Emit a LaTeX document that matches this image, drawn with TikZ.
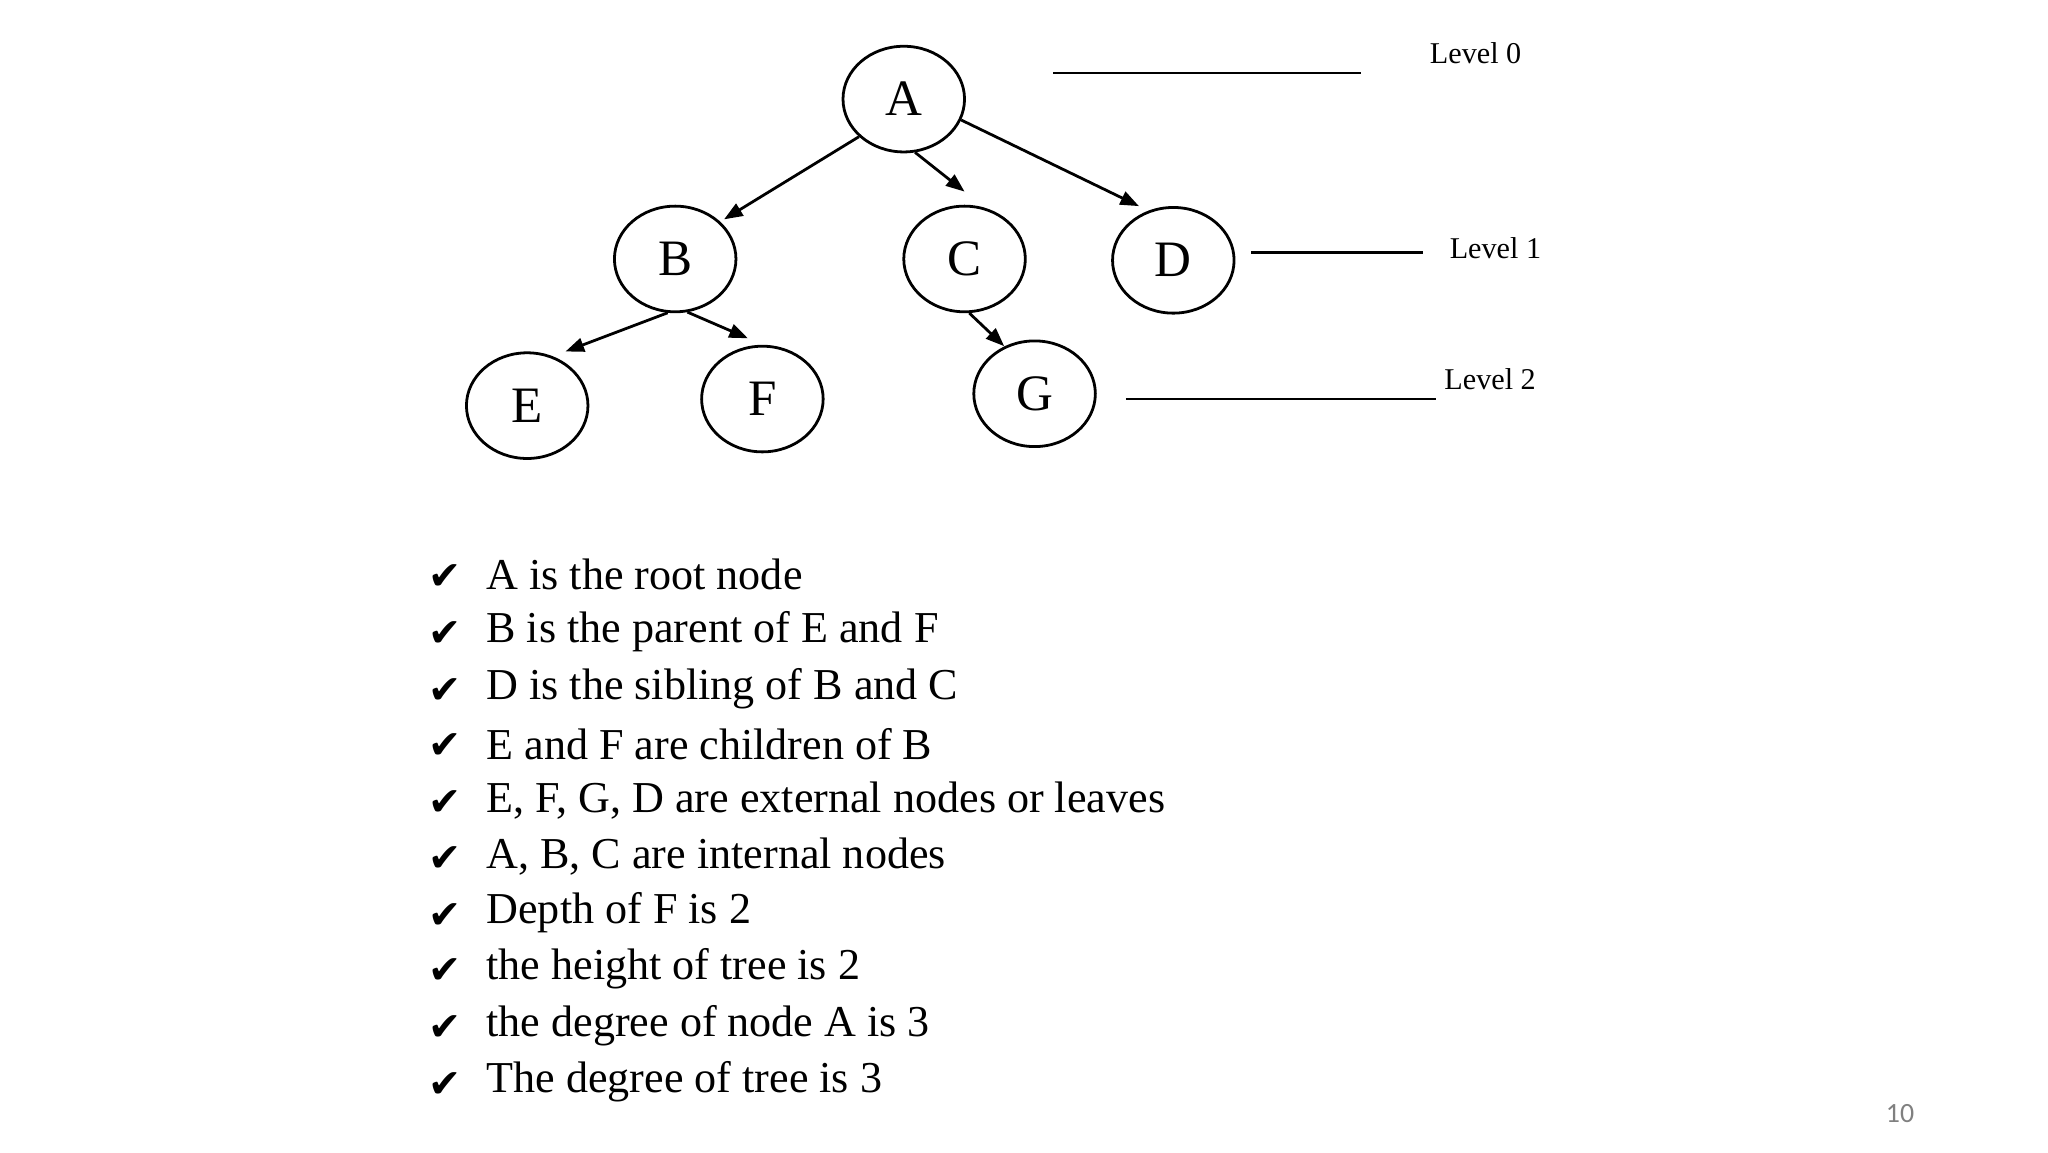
\documentclass[tikz,border=0pt]{standalone}
\usepackage{fontspec}
\setmainfont{Liberation Serif}
\newfontfamily\djv{DejaVu Sans}
\newfontfamily\carl{Carlito}
\usetikzlibrary{shapes.geometric,arrows.meta}
\begin{document}
\begin{tikzpicture}[x=0.02cm,y=-0.02cm,
  tn/.style={ellipse,draw,line width=1.2pt,minimum width=1.84cm,minimum height=1.6cm,inner sep=0pt,font=\fontsize{22}{24}\selectfont},
  ar/.style={line width=1.2pt,-{Triangle[length=8pt,width=6pt]}},
  lv/.style={line width=1pt},
  lvt/.style={font=\fontsize{13}{15}\selectfont,anchor=west},
  bl/.style={anchor=west,font=\fontsize{19}{22}\selectfont}]
\useasboundingbox (0,0) rectangle (1550,872);
\node[tn] (A) at (684,75) {A};
\node[tn] (B) at (511,196) {B};
\node[tn] (C) at (730,196) {C};
\node[tn] (D) at (888,197) {D};
\node[tn] (E) at (399,307) {E};
\node[tn] (F) at (577,302) {F};
\node[tn] (G) at (783,298) {G};
\coordinate (ab) at (548,166); \coordinate (ac) at (730,145);
\coordinate (bf) at (566,256); \coordinate (cg) at (760,262);
\coordinate (ad) at (862,156); \coordinate (be) at (428,266);
\draw[ar] (A.220) -- (ab);
\draw[ar] (A.282) -- (ac);
\draw[ar] (A.340) -- (ad);
\draw[ar] (B.262) -- (be);
\draw[ar] (B.283) -- (bf);
\draw[ar] (C.275) -- (cg);
\coordinate (l0a) at (797,55); \coordinate (l0b) at (1030,55);
\coordinate (l1a) at (947,191); \coordinate (l1b) at (1077,191);
\coordinate (l2a) at (852,302); \coordinate (l2b) at (1087,302);
\draw[lv] (l0a) -- (l0b); \draw[lv] (l1a) -- (l1b); \draw[lv] (l2a) -- (l2b);
\node[lvt] (t0) at (1076,40) {Level 0};
\node[lvt] (t1) at (1091,188) {Level 1};
\node[lvt] (t2) at (1087,287) {Level 2};
\foreach \y/\t [count=\i] in {435/A is the root node,478/B is the parent of E and F,521/D is the sibling of B and C,563/E and F are children of B,606/{E, F, G, D are external nodes or leaves},648/{A, B, C are internal nodes},691/Depth of F is 2,733/the height of tree is 2,776/the degree of node A is 3,819/The degree of tree is 3}{
  \node[anchor=center,font=\djv\fontsize{17}{20}\selectfont] (c\i) at (337,\y+2) {✔};
  \node[bl] (b\i) at (362,\y) {\t};
}
\node[font=\carl\fontsize{12}{14}\selectfont,text=gray] (pg) at (1438,843) {10};
\end{tikzpicture}
\end{document}
